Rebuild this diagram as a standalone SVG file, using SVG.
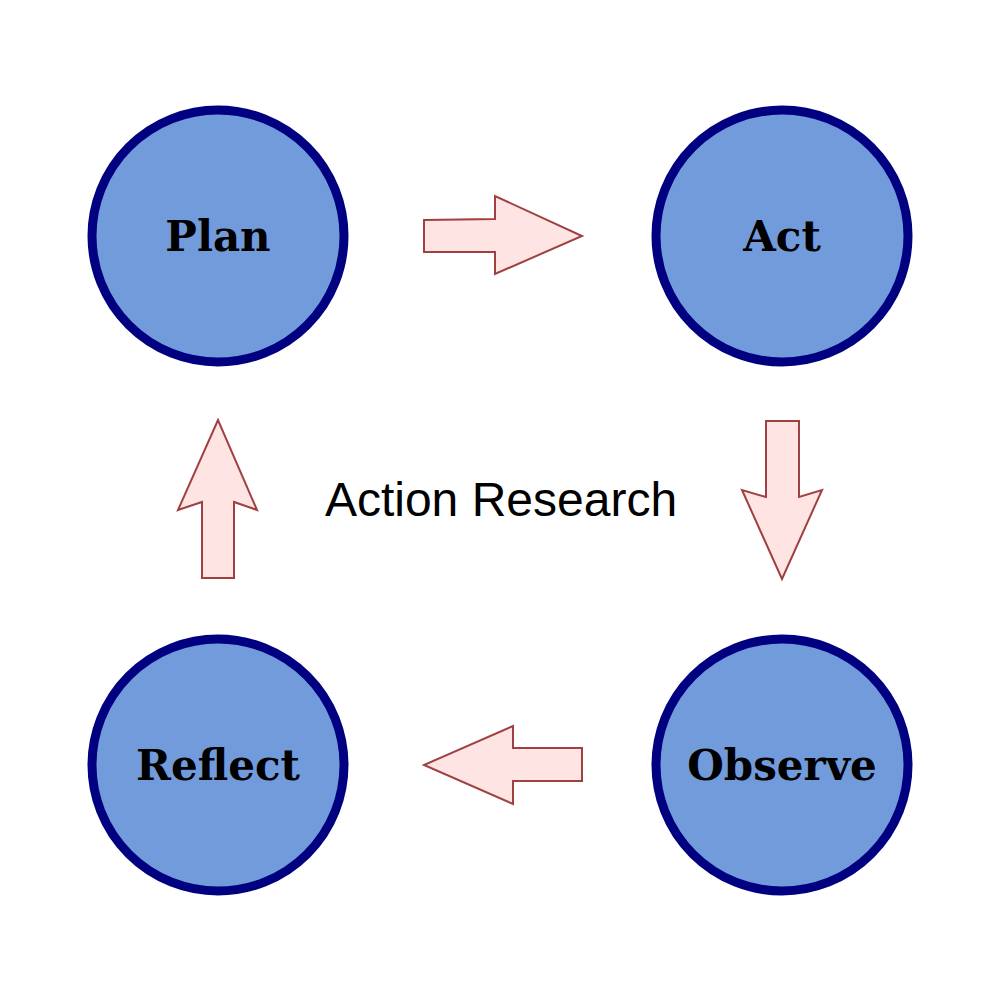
<svg xmlns="http://www.w3.org/2000/svg" width="1000" height="1000" viewBox="0 0 1000 1000">
<style>
.n{fill:#729bdc;stroke:#000080;stroke-width:9}
.t{font-family:"DejaVu Serif",serif;font-weight:bold;font-size:42px;text-anchor:middle;fill:#000}
.a{fill:#ffe4e4;stroke:#a04040;stroke-width:2}
</style>
<rect width="1000" height="1000" fill="#fff"/>
<g id="plan"><circle class="n" cx="218" cy="236" r="126"/><text class="t" x="218" y="251">Plan</text></g>
<g id="act"><circle class="n" cx="782" cy="236" r="126"/><text class="t" x="782" y="251">Act</text></g>
<g id="reflect"><circle class="n" cx="218" cy="765" r="126"/><text class="t" x="218" y="780">Reflect</text></g>
<g id="observe"><circle class="n" cx="782" cy="765" r="126"/><text class="t" x="782" y="780">Observe</text></g>
<g id="connectors">
<polygon class="a" points="424,220 495,219 495,196 582,236 495,274 495,252 424,252"/>
<polygon class="a" points="766,421 799,421 799,497 822,490 782,579 742,490 766,497"/>
<polygon class="a" points="582,748 513,748 513,726 424,765 513,804 513,781 582,781"/>
<polygon class="a" points="202,578 234,578 234,502 257,510 218,420 178,510 202,502"/>
</g>
<text x="501" y="516" font-family="Liberation Sans,Arial,sans-serif" font-size="48" text-anchor="middle">Action Research</text>
</svg>
